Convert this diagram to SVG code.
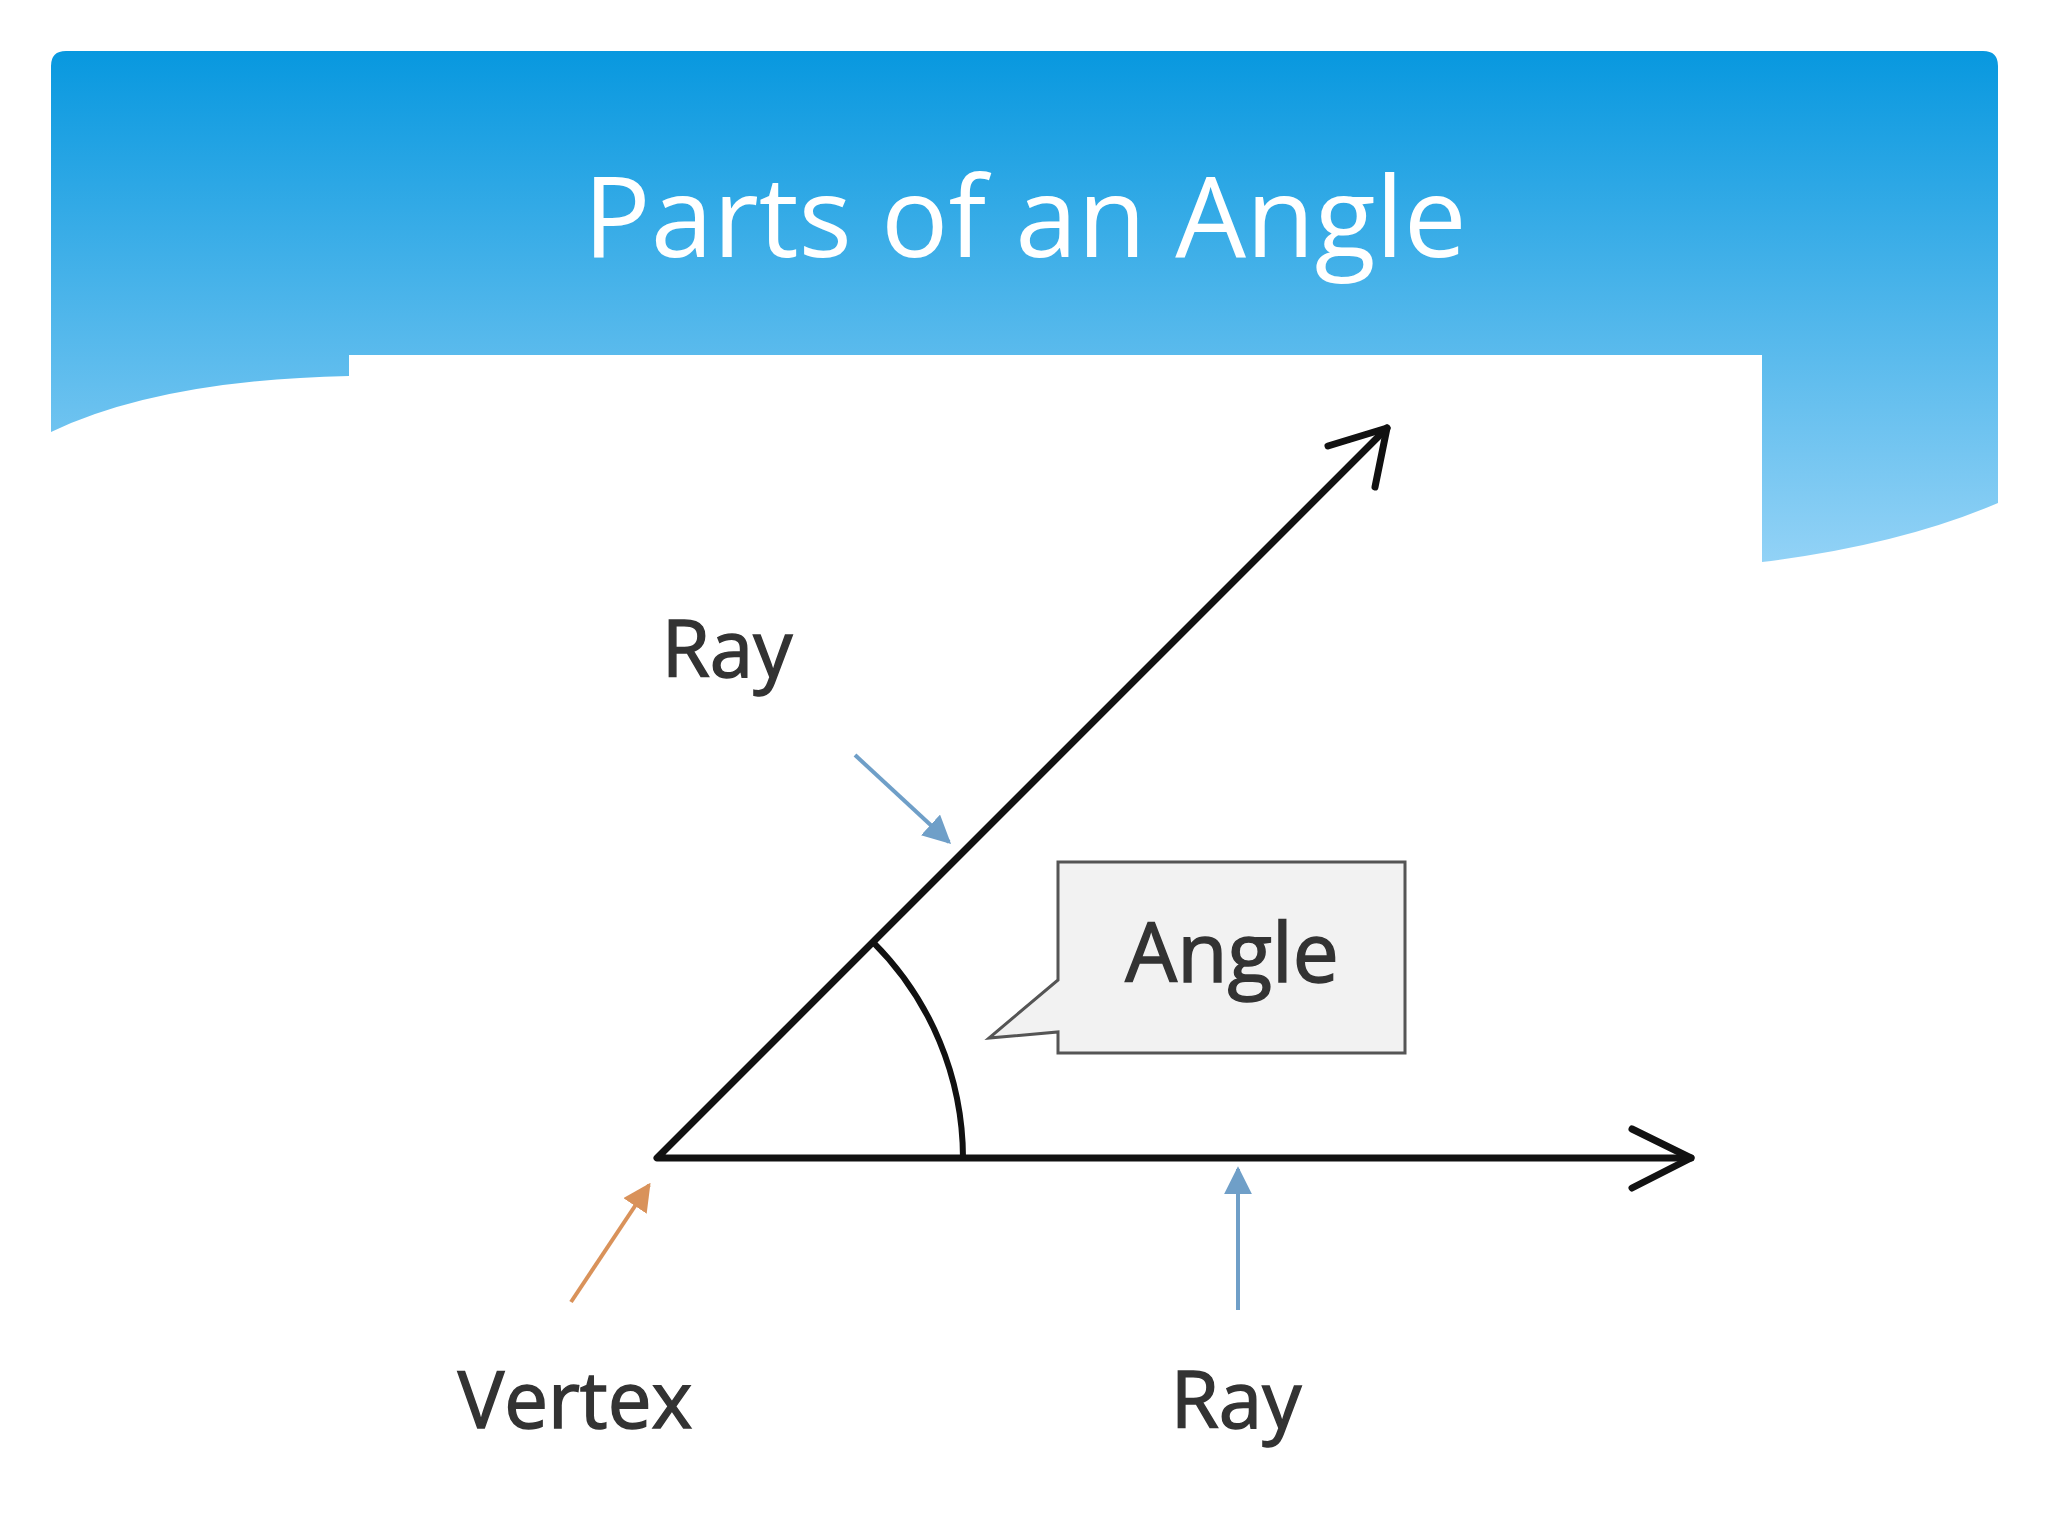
<svg xmlns="http://www.w3.org/2000/svg" width="2048" height="1536" viewBox="0 0 2048 1536">
<defs>
<linearGradient id="bg" x1="0" y1="0" x2="0" y2="1"><stop offset="0" stop-color="#0898df"/><stop offset="1" stop-color="#92d2f6"/></linearGradient>
<marker id="ab" viewBox="0 0 10 10" refX="9" refY="5" markerWidth="7" markerHeight="7" orient="auto"><path d="M0,0L10,5L0,10z" fill="#6f9fc8"/></marker>
<marker id="ao" viewBox="0 0 10 10" refX="9" refY="5" markerWidth="7" markerHeight="7" orient="auto"><path d="M0,0L10,5L0,10z" fill="#d9925a"/></marker>
</defs>
<style>
.t{font-family:"Open Sans","Liberation Sans",sans-serif;fill:#333;stroke:#333;stroke-width:1.5}
.ray{stroke:#111;stroke-width:7;fill:none;stroke-linecap:round;stroke-linejoin:round}
</style>
<rect width="2048" height="1536" fill="#fff"/>
<g id="banner">
<path d="M51,66Q51,51 66,51L1983,51Q1998,51 1998,66L1998,503Q1900,545 1762,562L1762,355L349,355L349,376Q160,380 51,432Z" fill="url(#bg)"/>
<text x="1025" y="257" text-anchor="middle" font-family="'Open Sans','Liberation Sans',sans-serif" font-size="112" fill="#fff">Parts of an Angle</text>
</g>
<g id="connectors">
<path class="ray" d="M1387,428L657,1158L1691,1158"/>
<path class="ray" d="M1328,446L1387,428L1375,487"/>
<path class="ray" d="M1632,1129L1691,1158L1632,1188"/>
<path d="M963,1158A306,306 0 0 0 873,942" fill="none" stroke="#111" stroke-width="6"/>
<line x1="855" y1="755" x2="949" y2="842" stroke="#6f9fc8" stroke-width="4" marker-end="url(#ab)"/>
<line x1="1238" y1="1310" x2="1238" y2="1169" stroke="#6f9fc8" stroke-width="4" marker-end="url(#ab)"/>
<line x1="571" y1="1302" x2="649" y2="1185" stroke="#d9925a" stroke-width="4" marker-end="url(#ao)"/>
</g>
<g id="angle">
<path d="M1058,862H1405V1053H1058V1032L989,1038L1058,980Z" fill="#f2f2f2" stroke="#555" stroke-width="3"/>
<text class="t" x="1232" y="982" text-anchor="middle" font-size="82">Angle</text>
</g>
<g id="ray1"><text class="t" x="727" y="677" text-anchor="middle" font-size="78">Ray</text></g>
<g id="vertex"><text class="t" x="575" y="1428" text-anchor="middle" font-size="78">Vertex</text></g>
<g id="ray2"><text class="t" x="1236" y="1428" text-anchor="middle" font-size="78">Ray</text></g>
</svg>
